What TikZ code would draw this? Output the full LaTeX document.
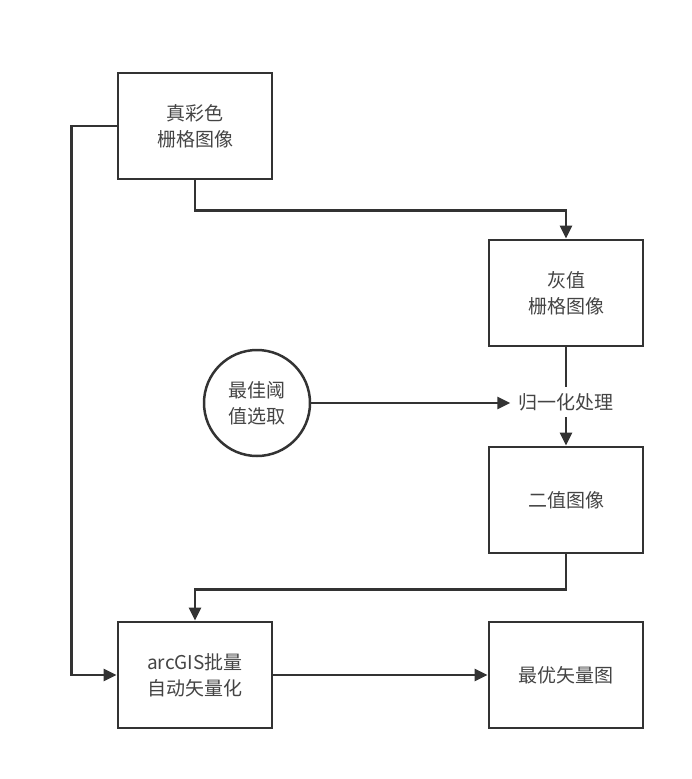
\documentclass[tikz,border=0pt]{standalone}
\usepackage{fontspec}
\setmainfont{Noto Sans CJK SC}
\usetikzlibrary{arrows.meta}
\definecolor{ln}{HTML}{333333}
\definecolor{tx}{HTML}{444444}
\begin{document}
\begin{tikzpicture}[x=1pt,y=-1pt,
  box/.style={draw=ln,line width=2.8pt,minimum width=154pt,minimum height=106pt,align=center,inner sep=0pt,
    font=\fontsize{19}{26}\selectfont,text=tx},
  circ/.style={draw=ln,line width=2.5pt,circle,minimum size=106pt,align=center,inner sep=0pt,
    font=\fontsize{19}{26}\selectfont,text=tx},
  lbl/.style={inner xsep=8pt,minimum height=30pt,inner ysep=0pt,font=\fontsize{19}{26}\selectfont,text=tx},
  conn/.style={draw=ln,line width=2.8pt},
  arr/.style={conn,-{Triangle[length=13pt,width=12pt]}}]
\useasboundingbox (0,0) rectangle (692,779);
\node[box] (b1) at (195,126) {真彩色\\栅格图像};
\node[box] (b2) at (566,293) {灰值\\栅格图像};
\node[circ] (c) at (257,403) {最佳阈\\值选取};
\node[lbl] (l) at (566,402) {归一化处理};
\node[box] (b3) at (566,500) {二值图像};
\node[box] (b4) at (195,675) {arcGIS批量\\自动矢量化};
\node[box] (b5) at (566,675) {最优矢量图};
\draw[arr] (b1.south) -- ++(0,30) -| (b2.north);
\draw[arr] (b1.west) -- ++(-45,0) |- (b4.west);
\draw[conn] (b2.south) -- (l.north);
\draw[arr] (l.south) -- (b3.north);
\draw[arr] (c.east) -- (c.east -| l.west);
\draw[arr] (b3.south) -- ++(0,35) -| (b4.north);
\draw[arr] (b4.east) -- (b5.west);
\end{tikzpicture}
\end{document}
